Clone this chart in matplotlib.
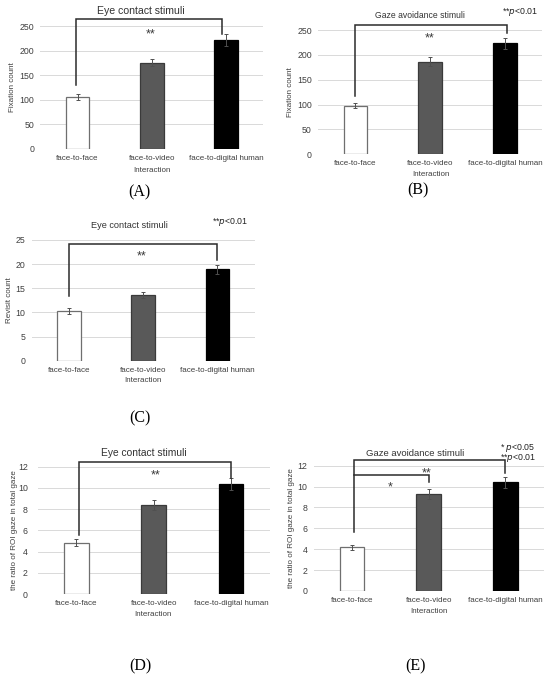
import numpy as np
import matplotlib
matplotlib.use('Agg')
import matplotlib.pyplot as plt

plt.rcParams['font.family'] = ['Liberation Sans', 'DejaVu Sans']

W, H = 550, 689

categories = ['face-to-face', 'face-to-video', 'face-to-digital human']
bar_colors = ['#ffffff', '#595959', '#000000']
edge_colors = ['#6f6f6f', '#3a3a3a', '#000000']

# panel values
fix_eye = [106, 175, 222]
fix_eye_err = [5.5, 7, 12]
fix_gaze = [98, 186, 223]
fix_gaze_err = [5, 9, 11]
revisit_eye = [10.3, 13.6, 18.9]
revisit_eye_err = [0.55, 0.7, 0.9]
ratio_eye = [4.84, 8.36, 10.37]
ratio_eye_err = [0.3, 0.47, 0.53]
ratio_gaze = [4.18, 9.29, 10.4]
ratio_gaze_err = [0.26, 0.45, 0.5]

TXT = '#3f3f3f'


def px(x, y):
    return x / W, 1 - y / H


def make_axes(fig, left, top, right, bottom):
    return fig.add_axes([left / W, 1 - bottom / H, (right - left) / W, (bottom - top) / H])


def bar_panel(fig, rect, vals, errs, ymax, ystep, ylabel, ylab_x, ypad=4.5):
    ax = make_axes(fig, *rect)
    x = np.arange(len(categories))
    ax.bar(x, vals, width=0.32, color=bar_colors, edgecolor=edge_colors, linewidth=0.9, zorder=3)
    ax.errorbar(x, vals, yerr=errs, fmt='none', ecolor='#505050', elinewidth=0.7,
                capsize=1.6, capthick=0.7, zorder=4)
    ax.set_xlim(-0.5, 2.5)
    ax.set_ylim(0, ymax)
    ax.set_yticks(np.arange(0, ymax + 0.001, ystep))
    ax.set_xticks(x)
    ax.set_xticklabels(categories)
    for s in ax.spines.values():
        s.set_visible(False)
    ax.grid(axis='y', color='#d9d9d9', linewidth=0.7, zorder=0)
    ax.tick_params(axis='both', length=0, colors=TXT)
    ax.tick_params(axis='x', pad=4.2, labelsize=5.8)
    ax.tick_params(axis='y', pad=ypad, labelsize=6.3)
    cy = (rect[1] + rect[3]) / 2
    fig.text(*px(ylab_x, cy), ylabel, rotation=90, ha='center', va='center',
             fontsize=5.8, color=TXT)
    return ax


def bracket(ax, x0, x1, y0, ytop, y1):
    ax.plot([x0, x0, x1, x1], [y0, ytop, ytop, y1], color='#2b2b2b', lw=1.1,
            clip_on=False, zorder=5, solid_joinstyle='miter')


def stars(ax, x, y, s, fs=9):
    ax.annotate(s, (x, y), xytext=(0, -0.62 * fs), textcoords='offset points',
                ha='center', va='baseline', fontsize=fs, color='#3a3a3a',
                annotation_clip=False)


fig = plt.figure(figsize=(W / 100, H / 100), dpi=100)

# (A)
ax = bar_panel(fig, (40.4, 26, 263.1, 149), fix_eye, fix_eye_err, 250, 50, 'Fixation count', 13)
bracket(ax, -0.02, 1.95, 131, 263.5, 234.5)
stars(ax, 0.98, 243, '**')
fig.text(*px(141, 11), 'Eye contact stimuli', ha='center', va='center', fontsize=7.6, color='#333333')
fig.text(*px(151.7, 170), 'Interaction', ha='center', va='center', fontsize=5.8, color=TXT)
fig.text(*px(139, 192), '(A)', ha='center', va='center', fontsize=11.5, family='Liberation Serif')

# (B)
ax = bar_panel(fig, (318.1, 30, 542.4, 154.3), fix_gaze, fix_gaze_err, 250, 50, 'Fixation count', 290)
bracket(ax, 0.0, 2.03, 118, 261, 243)
stars(ax, 0.99, 243, '**')
fig.text(*px(420, 15), 'Gaze avoidance stimuli', ha='center', va='center', fontsize=6.2, color='#333333')
fig.text(*px(431, 174), 'Interaction', ha='center', va='center', fontsize=5.8, color=TXT)
fig.text(*px(418, 190), '(B)', ha='center', va='center', fontsize=11.5, family='Liberation Serif')

# (C)
ax = bar_panel(fig, (31.5, 240, 254.7, 360.7), revisit_eye, revisit_eye_err, 25, 5, 'Revisit count', 10)
bracket(ax, 0.0, 1.99, 13.4, 24.2, 20.9)
stars(ax, 0.98, 22.6, '**')
fig.text(*px(129, 225), 'Eye contact stimuli', ha='center', va='center', fontsize=6.6, color='#333333')
fig.text(*px(143, 380.3), 'Interaction', ha='center', va='center', fontsize=5.8, color=TXT)
fig.text(*px(140, 418.3), '(C)', ha='center', va='center', fontsize=11.5, family='Liberation Serif')

# (D)
ax = bar_panel(fig, (37.6, 466.7, 269.7, 594), ratio_eye, ratio_eye_err, 12, 2,
               'the ratio of ROI gaze in total gaze', 15, ypad=7)
bracket(ax, 0.04, 2.0, 5.56, 12.4, 10.9)
stars(ax, 1.02, 11.6, '**')
fig.text(*px(144, 453), 'Eye contact stimuli', ha='center', va='center', fontsize=7.4, color='#333333')
fig.text(*px(153, 614.3), 'Interaction', ha='center', va='center', fontsize=5.8, color=TXT)
fig.text(*px(140, 666), '(D)', ha='center', va='center', fontsize=11.5, family='Liberation Serif')

# (E)
ax = bar_panel(fig, (313.7, 465.7, 543.6, 591), ratio_gaze, ratio_gaze_err, 12, 2,
               'the ratio of ROI gaze in total gaze', 291.7)
bracket(ax, 0.03, 2.0, 5.68, 12.54, 11.27)
bracket(ax, 0.03, 1.0, 11.07, 11.07, 10.4)
stars(ax, 0.97, 11.75, '**')
stars(ax, 0.5, 10.37, '*')
fig.text(*px(415, 453), 'Gaze avoidance stimuli', ha='center', va='center', fontsize=6.8, color='#333333')
fig.text(*px(429, 611.7), 'Interaction', ha='center', va='center', fontsize=5.8, color=TXT)
fig.text(*px(415, 666), '(E)', ha='center', va='center', fontsize=11.5, family='Liberation Serif')

# significance keys
for (x, y, s) in [(520, 12.3, '**'), (230, 221.7, '**'), (518, 458.3, '**'), (518, 447.7, '* ')]:
    thr = '0.05' if s == '* ' else '0.01'
    fig.text(*px(x, y), s + r'$\it{p}$' + '<' + thr, ha='center', va='center',
             fontsize=6.3, color='#222222')

fig.savefig('out.png', dpi=100)
